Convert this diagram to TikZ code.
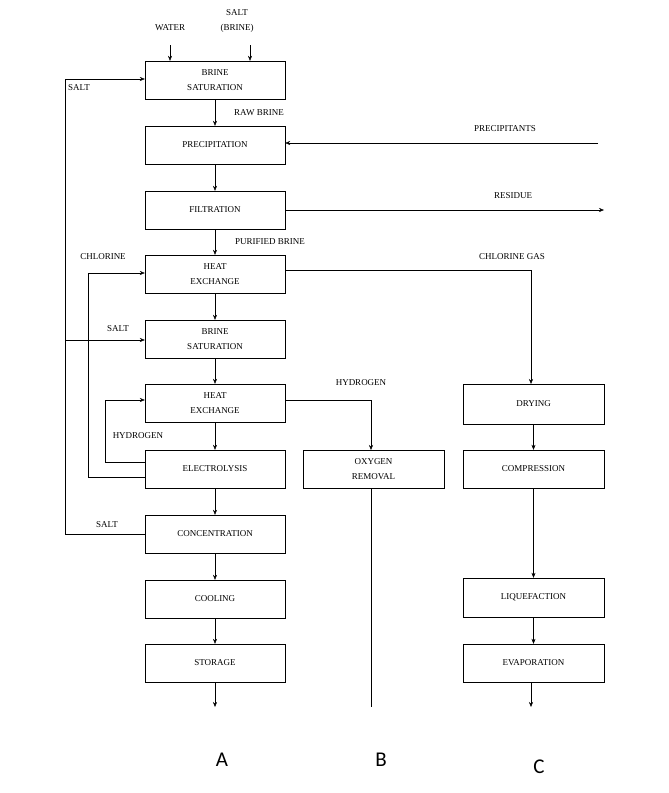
\documentclass[tikz,border=0pt]{standalone}
\usepackage{fontspec}
\setmainfont{Liberation Serif}
\newfontfamily\abc{Carlito}
\usetikzlibrary{arrows.meta}
\begin{document}
\begin{tikzpicture}[x=1pt,y=-1pt,
  box/.style={draw,thin,minimum width=140pt,minimum height=38pt,align=center,font=\fontsize{9}{15}\selectfont},
  lab/.style={font=\fontsize{9}{15}\selectfont,align=center},
  big/.style={font=\abc\fontsize{21}{24}\selectfont},
  ar/.style={-{Stealth[length=5pt,width=4pt]},thin}]
\useasboundingbox (0,0) rectangle (669,793);
\node[box] (bs1) at (215,80) {BRINE\\SATURATION};
\node[box] (pre) at (215,145) {PRECIPITATION};
\node[box] (fil) at (215,210) {FILTRATION};
\node[box] (he1) at (215,274) {HEAT\\EXCHANGE};
\node[box] (bs2) at (215,339) {BRINE\\SATURATION};
\node[box] (he2) at (215,403) {HEAT\\EXCHANGE};
\node[box] (ele) at (215,469) {ELECTROLYSIS};
\node[box] (con) at (215,534) {CONCENTRATION};
\node[box] (coo) at (215,599) {COOLING};
\node[box] (sto) at (215,663) {STORAGE};
\node[box,minimum width=141pt] (oxy) at (373.5,469) {OXYGEN\\REMOVAL};
\node[box,minimum width=141pt,minimum height=40pt] (dry) at (533.5,404) {DRYING};
\node[box,minimum width=141pt] (com) at (533.5,469) {COMPRESSION};
\node[box,minimum width=141pt,minimum height=39pt] (liq) at (533.5,597.5) {LIQUEFACTION};
\node[box,minimum width=141pt] (eva) at (533.5,663) {EVAPORATION};
\coordinate (w) at (170,45); \coordinate (sb) at (250,45);
\coordinate (pin) at (598,143); \coordinate (res) at (604,210);
\coordinate (oa) at (215,707); \coordinate (ob) at (371,707); \coordinate (oc) at (531,707);
\node[lab] (lw) at (170,28) {WATER};
\node[lab] (ls) at (237,21) {SALT\\(BRINE)};
\node[lab] at (79,88) {SALT};
\node[lab] at (118,329) {SALT};
\node[lab] at (107,525) {SALT};
\node[lab] at (103,257) {CHLORINE};
\node[lab] at (138,436) {HYDROGEN};
\node[lab] at (361,383) {HYDROGEN};
\node[lab] at (512,257) {CHLORINE GAS};
\node[lab] at (505,129) {PRECIPITANTS};
\node[lab] at (513,196) {RESIDUE};
\node[lab] at (259,113) {RAW BRINE};
\node[lab] at (270,242) {PURIFIED BRINE};
\node[big] at (222,760) {A};
\node[big] at (381,760) {B};
\node[big] at (539,767) {C};
\draw[ar] (w) -- (w|-bs1.north);
\draw[ar] (sb) -- (sb|-bs1.north);
\draw[ar] (bs1) -- (pre); \draw[ar] (pre) -- (fil); \draw[ar] (fil) -- (he1);
\draw[ar] (he1) -- (bs2); \draw[ar] (bs2) -- (he2); \draw[ar] (he2) -- (ele);
\draw[ar] (ele) -- (con); \draw[ar] (con) -- (coo); \draw[ar] (coo) -- (sto);
\draw[ar] (sto) -- (oa);
\draw[ar] (pin) -- (pre.east|-pin);
\draw[ar] (fil) -- (res);
\draw[ar] (con.west) -- (65,534) -- (65,79) -- (bs1.west|-0,79);
\draw[ar] (65,340) -- (bs2.west|-0,340);
\draw[ar] (ele.west|-0,477) -- (88,477) -- (88,273) -- (he1.west|-0,273);
\draw[ar] (ele.west|-0,462) -- (105,462) -- (105,400) -- (he2.west|-0,400);
\draw[ar] (he2.east|-0,400) -- (371,400) -- (371,450);
\draw (oxy.south-|371,0) -- (ob);
\draw[ar] (he1.east|-0,270) -- (531,270) -- (531,384);
\draw[ar] (dry) -- (com); \draw[ar] (com) -- (liq); \draw[ar] (liq) -- (eva);
\draw[ar] (eva.south-|oc) -- (oc);
\end{tikzpicture}
\end{document}
